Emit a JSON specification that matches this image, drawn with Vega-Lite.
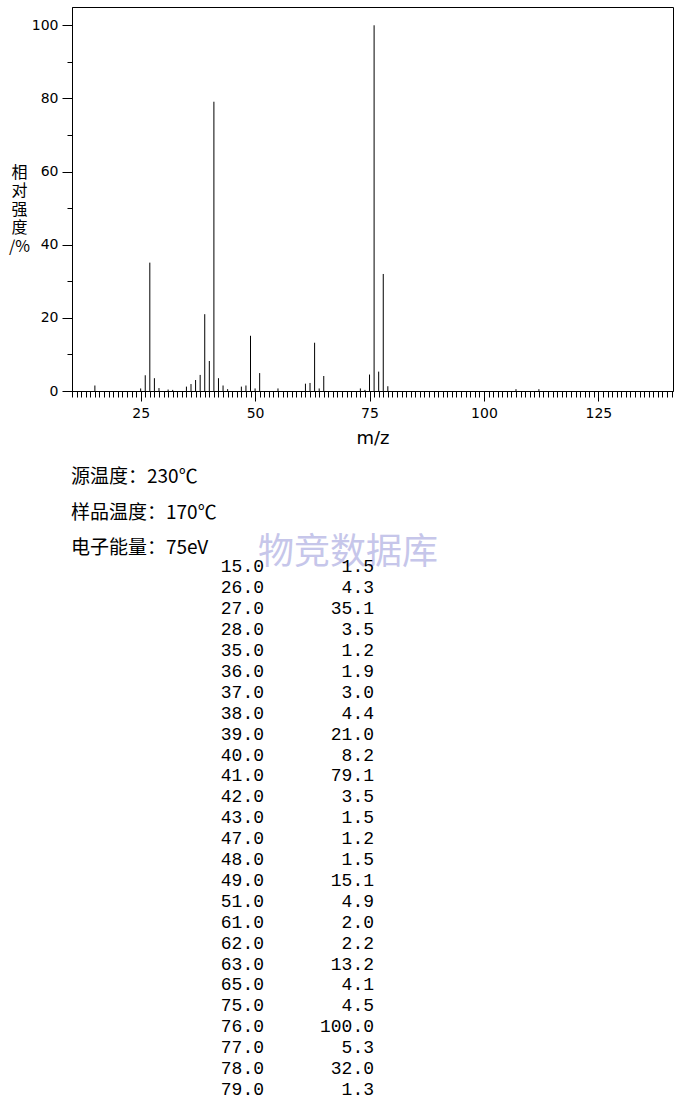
{
  "$schema": "https://vega.github.io/schema/vega-lite/v6.json",
  "padding": {"left": 7, "top": 6, "right": 7, "bottom": 0},
  "background": "white",
  "spacing": 20,
  "config": {
    "view": {"stroke": null},
    "style": {"guide-title": {"lineBreak": "\n"}},
    "axis": {"grid": false, "domainColor": "black", "tickColor": "black", "labelColor": "black", "titleColor": "black", "labelFont": "DejaVu Sans", "labelFontSize": 14, "titleFontWeight": "normal", "domainWidth": 1, "tickWidth": 1}
  },
  "datasets": {
    "peaks": [
      {"mz": 15, "intensity": 1.5, "listed": true},
      {"mz": 25, "intensity": 0.7, "listed": false},
      {"mz": 26, "intensity": 4.3, "listed": true},
      {"mz": 27, "intensity": 35.1, "listed": true},
      {"mz": 28, "intensity": 3.5, "listed": true},
      {"mz": 29, "intensity": 0.8, "listed": false},
      {"mz": 31, "intensity": 0.4, "listed": false},
      {"mz": 32, "intensity": 0.3, "listed": false},
      {"mz": 35, "intensity": 1.2, "listed": true},
      {"mz": 36, "intensity": 1.9, "listed": true},
      {"mz": 37, "intensity": 3.0, "listed": true},
      {"mz": 38, "intensity": 4.4, "listed": true},
      {"mz": 39, "intensity": 21.0, "listed": true},
      {"mz": 40, "intensity": 8.2, "listed": true},
      {"mz": 41, "intensity": 79.1, "listed": true},
      {"mz": 42, "intensity": 3.5, "listed": true},
      {"mz": 43, "intensity": 1.5, "listed": true},
      {"mz": 44, "intensity": 0.5, "listed": false},
      {"mz": 47, "intensity": 1.2, "listed": true},
      {"mz": 48, "intensity": 1.5, "listed": true},
      {"mz": 49, "intensity": 15.1, "listed": true},
      {"mz": 50, "intensity": 0.7, "listed": false},
      {"mz": 51, "intensity": 4.9, "listed": true},
      {"mz": 55, "intensity": 0.7, "listed": false},
      {"mz": 61, "intensity": 2.0, "listed": true},
      {"mz": 62, "intensity": 2.2, "listed": true},
      {"mz": 63, "intensity": 13.2, "listed": true},
      {"mz": 64, "intensity": 0.7, "listed": false},
      {"mz": 65, "intensity": 4.1, "listed": true},
      {"mz": 73, "intensity": 0.7, "listed": false},
      {"mz": 74, "intensity": 0.3, "listed": false},
      {"mz": 75, "intensity": 4.5, "listed": true},
      {"mz": 76, "intensity": 100.0, "listed": true},
      {"mz": 77, "intensity": 5.3, "listed": true},
      {"mz": 78, "intensity": 32.0, "listed": true},
      {"mz": 79, "intensity": 1.3, "listed": true},
      {"mz": 107, "intensity": 0.5, "listed": false},
      {"mz": 112, "intensity": 0.5, "listed": false}
    ]
  },
  "vconcat": [
    {
      "width": 601,
      "height": 384,
      "view": {"stroke": "black", "strokeWidth": 1},
      "data": {"name": "peaks"},
      "mark": {"type": "rule", "color": "black", "strokeWidth": 1},
      "encoding": {
        "x": {
          "field": "mz", "type": "quantitative",
          "scale": {"domain": [10, 141.3], "nice": false, "zero": false},
          "axis": {
            "tickCount": 131,
            "labelExpr": "datum.value % 25 === 0 ? datum.label : ''",
            "labelOverlap": false,
            "labelFlush": false,
            "tickSize": {"condition": {"test": "datum.value % 25 === 0", "value": 10}, "value": 6},
            "labelPadding": 5,
            "title": "m/z",
            "titleFont": "DejaVu Sans",
            "titleFontSize": 18,
            "titlePadding": 9
          }
        },
        "y": {
          "field": "intensity", "type": "quantitative",
          "scale": {"domain": [0, 105], "nice": false},
          "axis": {
            "values": [0, 10, 20, 30, 40, 50, 60, 70, 80, 90, 100],
            "labelExpr": "datum.value % 20 === 0 ? datum.label : ''",
            "tickSize": {"condition": {"test": "datum.value % 20 === 0", "value": 10}, "value": 5},
            "labelPadding": 4,
            "title": "相\n对\n强\n度\n/%",
            "titleAngle": 0,
            "titleFont": "Noto Sans CJK SC",
            "titleFontSize": 16,
            "titleLineHeight": 18.5,
            "titleAlign": "center",
            "titleBaseline": "top",
            "titleX": -53,
            "titleY": 157
          }
        },
        "y2": {"datum": 0}
      }
    },
    {
      "width": 601,
      "height": 543.4,
      "title": {
        "text": ["源温度：230℃", "样品温度：170℃", "电子能量：75eV"],
        "anchor": "start",
        "frame": "group",
        "dx": -1,
        "offset": -23,
        "font": "Noto Sans CJK SC",
        "fontSize": 19,
        "fontWeight": "normal",
        "lineHeight": 35.5,
        "color": "black"
      },
      "data": {"name": "peaks"},
      "transform": [
        {"filter": "datum.listed"},
        {"fold": ["mz", "intensity"], "as": ["key", "value"]}
      ],
      "encoding": {
        "x": {"field": "key", "type": "nominal", "scale": {"type": "point", "domain": ["mz", "intensity"], "range": [192, 302], "padding": 0}, "axis": null},
        "y": {"field": "mz", "type": "ordinal", "axis": null}
      },
      "layer": [
        {
          "transform": [{"filter": "datum.mz === 15 && datum.key === 'intensity'"}],
          "mark": {"type": "text", "text": "物竞数据库", "font": "Noto Sans CJK SC", "fontSize": 36, "color": "#c6c6ea", "align": "center", "baseline": "middle", "dx": -26, "dy": -14}
        },
        {
          "mark": {"type": "text", "font": "Liberation Mono", "fontSize": 18, "color": "black", "align": "right", "baseline": "middle"},
          "encoding": {
            "text": {"field": "value", "type": "quantitative", "format": ".1f"}
          }
        }
      ]
    }
  ]
}
